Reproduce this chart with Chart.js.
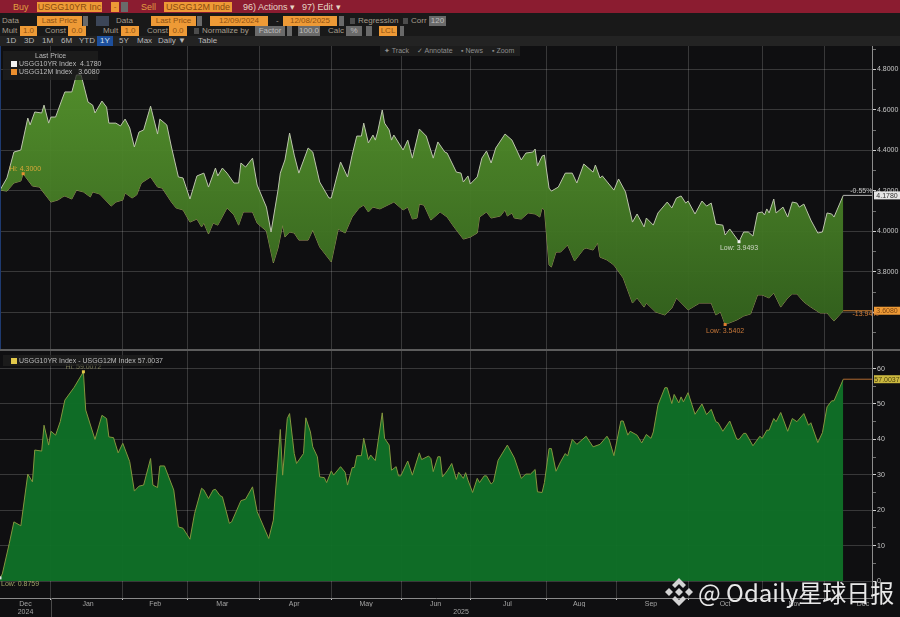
<!DOCTYPE html>
<html>
<head>
<meta charset="utf-8">
<title>USGG10YR vs USGG12M</title>
<script src="https://cdn.jsdelivr.net/npm/chart.js@4/dist/chart.umd.min.js"></script>
<style>
  html, body { margin: 0; padding: 0; background: #0f0f11; }
  #page { position: relative; width: 900px; height: 617px; overflow: hidden; background: #0f0f11;
          font-family: "Liberation Sans", Arial, sans-serif; }
  canvas { position: absolute; left: 0; display: block; }
  .bar { position: absolute; left: 0; width: 900px; }
  .t, .box { position: absolute; white-space: nowrap; font-size: 8px; line-height: 10px; }
  .t { color: #a69d8c; }
  .box { height: 10px; text-align: center; }
  .org { background: #ee9a36; color: #8e5214; }
  .gry { background: #6a6a6a; color: #bdbdbd; }
  .chk { background: #4c4c4c; width: 5px; height: 6px; position: absolute; }
  .sq { position: absolute; width: 6px; height: 6px; }
  .leg { position: absolute; font-size: 7px; line-height: 8px; color: #bcbcbc; white-space: nowrap; }
</style>
</head>
<body>
<div id="page">
  <div class="bar" style="top:0;height:13px;background:#8b1c30"></div>
  <div class="bar" style="top:13px;height:23px;background:#191919"></div>
  <div class="bar" style="top:36px;height:10px;background:#232323"></div>

  <!-- buy / sell row -->
  <span class="t" style="left:13px;top:2px;color:#e0a040;font-size:9px">Buy</span>
  <span class="box org" style="left:37px;top:2px;width:65px;font-size:9px;color:#8a4a10">USGG10YR Inc</span>
  <span class="box org" style="left:111px;top:2px;width:8px">-</span>
  <span class="box gry" style="left:121px;top:2px;width:7px"></span>
  <span class="t" style="left:141px;top:2px;color:#e0a040;font-size:9px">Sell</span>
  <span class="box org" style="left:164px;top:2px;width:68px;font-size:9px;color:#8a4a10">USGG12M Inde</span>
  <span class="t" style="left:243px;top:2px;color:#e6d6c6;font-size:9px">96) Actions ▾</span>
  <span class="t" style="left:302px;top:2px;color:#e6d6c6;font-size:9px">97) Edit ▾</span>

  <!-- data row -->
  <span class="t" style="left:2px;top:16px">Data</span>
  <span class="box org" style="left:37px;top:16px;width:45px">Last Price</span>
  <span class="box gry" style="left:83px;top:16px;width:5px"></span>
  <span class="box gry" style="left:96px;top:16px;width:13px;background:#3c4658"></span>
  <span class="t" style="left:116px;top:16px">Data</span>
  <span class="box org" style="left:151px;top:16px;width:45px">Last Price</span>
  <span class="box gry" style="left:197px;top:16px;width:5px"></span>
  <span class="box org" style="left:210px;top:16px;width:58px">12/09/2024</span>
  <span class="t" style="left:276px;top:16px">-</span>
  <span class="box org" style="left:283px;top:16px;width:54px">12/08/2025</span>
  <span class="box gry" style="left:339px;top:16px;width:5px"></span>
  <span class="chk" style="left:350px;top:18px"></span>
  <span class="t" style="left:358px;top:16px">Regression</span>
  <span class="chk" style="left:403px;top:18px"></span>
  <span class="t" style="left:411px;top:16px">Corr</span>
  <span class="box gry" style="left:429px;top:16px;width:17px">120</span>

  <!-- mult row -->
  <span class="t" style="left:2px;top:26px">Mult</span>
  <span class="box org" style="left:20px;top:26px;width:17px">1.0</span>
  <span class="t" style="left:45px;top:26px">Const</span>
  <span class="box org" style="left:68px;top:26px;width:18px">0.0</span>
  <span class="t" style="left:103px;top:26px">Mult</span>
  <span class="box org" style="left:121px;top:26px;width:18px">1.0</span>
  <span class="t" style="left:147px;top:26px">Const</span>
  <span class="box org" style="left:169px;top:26px;width:18px">0.0</span>
  <span class="chk" style="left:194px;top:28px"></span>
  <span class="t" style="left:202px;top:26px">Normalize by</span>
  <span class="box gry" style="left:255px;top:26px;width:30px">Factor</span>
  <span class="box gry" style="left:287px;top:26px;width:5px"></span>
  <span class="box gry" style="left:298px;top:26px;width:22px">100.0</span>
  <span class="t" style="left:328px;top:26px">Calc</span>
  <span class="box gry" style="left:346px;top:26px;width:16px">%</span>
  <span class="box gry" style="left:366px;top:26px;width:6px"></span>
  <span class="box org" style="left:379px;top:26px;width:18px">LCL</span>
  <span class="box gry" style="left:400px;top:26px;width:4px"></span>

  <!-- range row -->
  <span class="t" style="left:6px;top:36px;color:#b8b8b8">1D</span>
  <span class="t" style="left:24px;top:36px;color:#b8b8b8">3D</span>
  <span class="t" style="left:42px;top:36px;color:#b8b8b8">1M</span>
  <span class="t" style="left:61px;top:36px;color:#b8b8b8">6M</span>
  <span class="t" style="left:79px;top:36px;color:#b8b8b8">YTD</span>
  <span class="box" style="left:97px;top:36px;width:16px;background:#1d4f9c;color:#d5e0f0">1Y</span>
  <span class="t" style="left:119px;top:36px;color:#b8b8b8">5Y</span>
  <span class="t" style="left:137px;top:36px;color:#b8b8b8">Max</span>
  <span class="t" style="left:158px;top:36px;color:#b8b8b8">Daily ▼</span>
  <span class="t" style="left:198px;top:36px;color:#b8b8b8">Table</span>

  <canvas id="topChart" width="900" height="303" style="top:46px"></canvas>
  <canvas id="bottomChart" width="900" height="266" style="top:351px"></canvas>
  <div style="position:absolute;left:0;top:349px;width:900px;height:2px;background:#5c5c5c"></div>
  <div style="position:absolute;left:0;top:46px;width:1px;height:303px;background:#1e3a70"></div>
  <div style="position:absolute;left:51px;top:598px;width:1px;height:19px;background:#4a4a4a"></div>

  <!-- chart toolbar -->
  <div style="position:absolute;left:380px;top:46px;width:140px;height:10px;background:#1d1d1d"></div>
  <span class="leg" style="left:384px;top:47px;color:#8e8e8e">✦ Track</span>
  <span class="leg" style="left:417px;top:47px;color:#8e8e8e">✓ Annotate</span>
  <span class="leg" style="left:461px;top:47px;color:#8e8e8e">▪ News</span>
  <span class="leg" style="left:492px;top:47px;color:#8e8e8e">▪ Zoom</span>

  <!-- top legend -->
  <div style="position:absolute;left:3px;top:51px;width:95px;height:29px;background:rgba(32,32,32,.72)"></div>
  <span class="leg" style="left:35px;top:52px">Last Price</span>
  <span class="sq" style="left:11px;top:61px;background:#f2f2f2"></span>
  <span class="leg" style="left:19px;top:60px">USGG10YR Index&nbsp; 4.1780</span>
  <span class="sq" style="left:11px;top:69px;background:#ec8f2e"></span>
  <span class="leg" style="left:19px;top:68px">USGG12M Index&nbsp;&nbsp; 3.6080</span>

  <!-- bottom legend -->
  <div style="position:absolute;left:3px;top:355px;width:150px;height:11px;background:rgba(32,32,32,.72)"></div>
  <span class="sq" style="left:11px;top:358px;background:#e2c84a"></span>
  <span class="leg" style="left:19px;top:357px">USGG10YR Index - USGG12M Index 57.0037</span>

  <!-- watermark -->
  <svg style="position:absolute;left:664px;top:577px" width="30" height="30" viewBox="0 0 30 30">
    <g fill="#d4d4d4">
      <polygon points="15,1 22,8 19,11 15,7 11,11 8,8"/>
      <polygon points="15,29 22,22 19,19 15,23 11,19 8,22"/>
      <polygon points="1,15 5,11 9,15 5,19"/>
      <polygon points="29,15 25,11 21,15 25,19"/>
      <polygon points="15,11 19,15 15,19 11,15"/>
    </g>
  </svg>
  <span style="position:absolute;left:698px;top:576px;color:#e8e8e8;font:24px/32px 'Noto Sans CJK SC','Noto Sans',sans-serif;white-space:nowrap">@ Odaily星球日报</span>
</div>

<script>
// x is calendar days since 12/09/2024
const tenYrDays = [0,3,6,9,12,13,15,18,19,21,22,24,27,28,31,33,35,38,40,41,44,46,47,50,52,54,56,58,60,62,65,68,69,72,74,77,79,82,85,88,90,93,94,96,98,101,103,104,106,109,111,115,117,120,121,123,125,127,129,133,135,138,142,143,147,150,152,154,156,157,159,161,162,163,165,166,168,169,170,174,176,178,181,184,187,189,192,193,197,199,200,202,203,206,208,210,212,214,218,221,225,227,230,231,232,234,235,237,238,241,244,247,249,252,256,257,259,260,265,267,270,273,275,278,279,282,284,288,290,292,294,296,297,300,303,305,307,309,312,313,315,319,321,323,325,327,329,330,331,332,334,335,338,340,342,344,345,347,350,353,355,357,359,360,364];
const tenYr = [4.204,4.264,4.392,4.402,4.56,4.526,4.59,4.585,4.624,4.535,4.565,4.565,4.659,4.689,4.689,4.773,4.773,4.639,4.624,4.585,4.644,4.614,4.535,4.535,4.521,4.555,4.511,4.417,4.491,4.501,4.619,4.481,4.555,4.526,4.417,4.269,4.264,4.16,4.274,4.288,4.219,4.313,4.274,4.313,4.288,4.239,4.239,4.338,4.318,4.362,4.229,4.12,3.997,4.204,4.288,4.353,4.486,4.377,4.288,4.412,4.392,4.244,4.165,4.165,4.343,4.269,4.377,4.471,4.471,4.535,4.437,4.476,4.451,4.491,4.6,4.535,4.501,4.451,4.476,4.402,4.451,4.362,4.506,4.471,4.362,4.442,4.392,4.387,4.293,4.288,4.244,4.274,4.234,4.269,4.362,4.397,4.338,4.412,4.481,4.451,4.353,4.387,4.392,4.407,4.323,4.372,4.377,4.214,4.199,4.219,4.288,4.288,4.239,4.333,4.293,4.328,4.264,4.274,4.204,4.259,4.195,4.046,4.086,4.022,4.066,4.031,4.091,4.145,4.116,4.165,4.175,4.14,4.15,4.086,4.15,4.125,4.14,4.036,4.031,3.982,4.012,3.949,3.997,3.997,3.977,4.091,4.096,4.081,4.111,4.091,4.16,4.091,4.12,4.071,4.145,4.14,4.12,4.135,4.056,3.992,3.997,4.091,4.086,4.071,4.178];

const oneYrDays = [0,3,6,9,10,14,17,22,25,27,28,31,33,36,39,40,43,48,50,53,54,57,59,61,65,68,70,74,76,79,82,85,87,88,90,92,94,98,101,103,105,109,111,115,118,120,122,123,125,127,129,133,135,138,143,146,149,152,155,157,159,161,164,170,174,176,178,180,181,183,186,190,193,196,200,203,206,207,210,212,216,218,219,221,222,225,228,231,233,234,235,237,238,240,242,245,248,252,253,256,258,259,262,265,269,273,275,278,279,283,287,290,292,297,302,307,309,311,313,318,321,324,327,329,332,334,337,340,342,344,347,350,354,357,360,364];
const oneYr = [4.204,4.199,4.239,4.249,4.285,4.224,4.219,4.145,4.155,4.17,4.175,4.16,4.204,4.195,4.17,4.195,4.185,4.125,4.145,4.155,4.19,4.165,4.18,4.239,4.269,4.219,4.214,4.145,4.116,4.106,4.046,4.061,4.022,4.041,3.987,4.041,4.031,4.116,4.081,4.031,4.096,4.096,4.041,4.002,3.844,3.918,4.031,3.972,3.997,3.992,3.957,3.957,4.007,3.923,3.849,4.012,3.992,4.071,4.116,4.13,4.096,4.12,4.111,4.145,4.106,4.12,4.061,4.066,4.135,4.13,4.056,4.096,4.071,4.022,3.962,3.972,3.992,4.071,4.096,4.066,4.076,4.106,4.076,4.091,4.066,4.061,4.091,4.086,4.071,4.116,4.106,3.834,3.824,3.898,3.898,3.933,3.854,3.913,3.918,3.908,3.943,3.873,3.859,3.834,3.77,3.646,3.671,3.626,3.646,3.602,3.587,3.621,3.671,3.612,3.646,3.646,3.587,3.602,3.54,3.562,3.582,3.592,3.686,3.686,3.671,3.696,3.626,3.671,3.691,3.691,3.651,3.626,3.597,3.597,3.557,3.608];

const spreadDays = [0,1,4,6,9,12,14,15,18,19,21,22,24,26,28,32,36,37,41,44,46,47,49,51,53,56,58,60,62,65,66,68,69,71,75,77,79,82,84,87,88,90,92,93,95,96,99,100,104,106,109,111,116,118,121,122,124,125,127,128,131,132,134,135,137,138,140,141,143,144,147,149,150,152,153,154,156,157,159,160,162,165,166,168,169,171,172,173,176,178,181,182,185,186,187,189,190,191,193,195,197,198,200,201,202,204,206,207,209,210,212,213,215,219,222,225,227,229,231,232,234,235,237,238,240,242,244,245,247,249,253,256,259,262,263,265,268,269,271,272,275,277,279,281,282,284,287,288,290,291,293,294,295,297,300,303,305,307,309,310,312,315,318,319,321,322,325,328,329,331,332,334,335,337,340,342,344,347,349,350,353,355,357,359,360,364];
const spread = [0.88,2,10.6,16.7,15.6,30.2,28,37,36.7,44,38.4,42.3,41.2,45,51.1,54.7,59.1,48.3,40,46.8,45.9,40.7,40.5,36.2,38.9,33.7,25.4,26.8,27.1,34.6,27.1,26.4,32.5,32.5,25.7,15.3,14.9,11.8,19.1,26.2,25.7,23.3,25.7,25.9,24.1,23.8,16.3,16.7,22.7,23.1,26.6,19.6,12,17.2,42.8,29.9,45.9,47.3,36,33.2,36,46.1,42.1,37.9,35.1,29.4,29.2,27.8,31.1,29.9,32.3,30.7,27.1,32,32.1,35.4,35.4,40.3,34.3,35.6,34,47.5,40.3,38.4,31.3,32.3,29.7,29.7,33.9,29.9,36.2,34.3,35.3,34.6,30.9,35.1,35.1,29.4,31.1,33.2,28.7,30.7,29,30.6,28.5,25,29,27.8,29.7,29.7,27.4,28,34.1,38.4,34.8,29,30.2,30.2,31.5,25.2,25,27.8,37.4,37.4,31,33.7,36,35.3,40,38.6,40.9,37.9,38.6,40.9,39.8,35.4,45.2,45.2,41.2,42.3,41.2,39,41.4,40.3,42.1,49.7,54.6,54.6,50.1,52.7,50.3,52,50.6,53.2,47.1,50,47,48.5,45,44.7,42.3,45.2,40.1,40,41.7,41.7,38.2,40.9,40.3,42.6,42.6,45.9,45,47.6,42.3,45.9,45,47.3,44,44.7,39.1,41.9,49.2,50.9,50.9,57];

const monthStarts = [22,53,81,112,143,173.5,203,236,266,297,329,356];
const monthNames = ['Dec','Jan','Feb','Mar','Apr','May','Jun','Jul','Aug','Sep','Oct','Nov','Dec'];
const monthMids = [11,38,67,96,127,158,188,219,250,281,313,343,372.5];
const yearNames = ['2024','2025'];
const yearMids = [11,199];

const topTicks = [3.5,3.6,3.7,3.8,3.9,4,4.1,4.2,4.3,4.4,4.5,4.6,4.7,4.8,4.9];
const topLabels = [3.6,3.8,4,4.2,4.4,4.6,4.8];
const bottomTicks = [0,5,10,15,20,25,30,35,40,45,50,55,60];
const bottomLabels = [0,10,20,30,40,50,60];

const lastDay = 364;
const xMax = 376.4;
const gridColor = 'rgba(190,190,190,0.24)';

// axis sizes are forced so both panels line up with the same plot edges
function noPadding(axis) {
  axis.paddingTop = 0;
  axis.paddingBottom = 0;
  axis.paddingLeft = 0;
  axis.paddingRight = 0;
}
const fixedWidth = w => axis => { axis.width = w; noPadding(axis); };
const fixedHeight = h => axis => { axis.height = h; noPadding(axis); };

function yAxis(min, max, ticks, labels, digits) {
  return {
    position: 'right', min, max,
    afterFit: fixedWidth(28),
    afterBuildTicks: axis => { axis.ticks = ticks.map(value => ({ value })); },
    border: { color: '#8c8c8c', width: 1 },
    grid: {
      lineWidth: 1,
      tickLength: 4,
      color: c => (labels.includes(c.tick && c.tick.value) ? gridColor : 'transparent'),
      tickColor: c => (labels.includes(c.tick && c.tick.value) ? '#d0d0d0' : '#707070')
    },
    ticks: {
      autoSkip: false, padding: 1, color: '#c6c6c6',
      font: { size: 7, family: 'Liberation Sans' },
      callback: v => (labels.includes(v) ? v.toFixed(digits) : '')
    }
  };
}

function monthGrid(extra) {
  return Object.assign({
    type: 'linear', min: 0, max: xMax,
    afterBuildTicks: axis => { axis.ticks = monthStarts.map(value => ({ value })); },
    afterFit: fixedHeight(0),
    border: { display: false },
    grid: { color: gridColor, lineWidth: 1, drawTicks: false },
    ticks: { display: false, autoSkip: false }
  }, extra);
}

function labelAxis(positions, names, padding, height, weight) {
  return {
    type: 'linear', position: 'bottom', min: 0, max: xMax, weight,
    afterBuildTicks: axis => { axis.ticks = positions.map(value => ({ value })); },
    afterFit: fixedHeight(height),
    border: { display: false },
    grid: { display: false, drawTicks: false },
    ticks: {
      autoSkip: false, maxRotation: 0, padding, color: '#a4a4a4',
      font: { size: 7, family: 'Liberation Sans' },
      callback: (v, i) => names[i]
    }
  };
}

// small plugin for the Hi/Low marks, percent notes and the last-value tags
const notesPlugin = {
  id: 'notes',
  afterDatasetsDraw(chart, args, opts) {
    const { ctx, scales: { x, y }, chartArea } = chart;
    ctx.save();
    ctx.textBaseline = 'middle';
    ctx.font = '7px "Liberation Sans"';
    (opts.tags || []).forEach(tag => {
      const py = y.getPixelForValue(tag.value);
      ctx.strokeStyle = tag.line;
      ctx.lineWidth = 1;
      ctx.beginPath();
      ctx.moveTo(x.getPixelForValue(lastDay), py);
      ctx.lineTo(chartArea.right, py);
      ctx.stroke();
      ctx.fillStyle = tag.bg;
      ctx.fillRect(chartArea.right + 2, py - 4, 26, 8);
      ctx.fillStyle = tag.fg;
      ctx.textAlign = 'center';
      ctx.fillText(tag.text, chartArea.right + 15, py + 0.5);
    });
    (opts.marks || []).forEach(m => {
      const px = x.getPixelForValue(m.day), py = y.getPixelForValue(m.value);
      ctx.fillStyle = m.color;
      ctx.fillRect(px - 1.5, py - 1.5, 3, 3);
      ctx.fillStyle = m.textColor || m.color;
      ctx.textAlign = m.align || 'center';
      ctx.fillText(m.text, px + (m.dx || 0), py + (m.dy || 0));
    });
    (opts.texts || []).forEach(t => {
      ctx.fillStyle = t.color;
      ctx.textAlign = 'left';
      ctx.fillText(t.text, x.getPixelForValue(t.day), y.getPixelForValue(t.value));
    });
    ctx.restore();
  }
};

const pairs = (xs, ys) => xs.map((d, i) => ({ x: d, y: ys[i] }));

function bandFill(context) {
  const { ctx, chartArea } = context.chart;
  if (!chartArea) return '#3f7322';
  const g = ctx.createLinearGradient(0, chartArea.top, 0, chartArea.bottom);
  g.addColorStop(0, 'rgba(88,152,46,0.96)');
  g.addColorStop(0.5, 'rgba(70,124,38,0.96)');
  g.addColorStop(1, 'rgba(48,94,28,0.96)');
  return g;
}

new Chart(document.getElementById('topChart'), {
  type: 'line',
  plugins: [notesPlugin],
  data: {
    datasets: [
      { label: 'USGG10YR Index', data: pairs(tenYrDays, tenYr), borderColor: '#bcc4ac', borderWidth: 1, pointRadius: 0, tension: 0, fill: '+1', backgroundColor: bandFill },
      { label: 'USGG12M Index', data: pairs(oneYrDays, oneYr), borderColor: 'rgba(176,162,104,0.8)', borderWidth: 1, pointRadius: 0, tension: 0, fill: false }
    ]
  },
  options: {
    responsive: false,
    animation: false,
    layout: { padding: 0 },
    scales: {
      x: monthGrid(),
      y: yAxis(3.419, 4.916, topTicks, topLabels, 4)
    },
    plugins: {
      legend: { display: false },
      tooltip: { enabled: false },
      notes: {
        tags: [
          { value: 4.178, text: '4.1780', bg: '#e6e6e6', fg: '#333', line: '#b5b5b5' },
          { value: 3.608, text: '3.6080', bg: '#ee9a36', fg: '#7c4510', line: '#c07a30' }
        ],
        marks: [
          { day: 10, value: 4.285, color: '#e89030', textColor: '#d8a838', text: 'Hi: 4.3000', dx: -14, dy: -5, align: 'left' },
          { day: 319, value: 3.949, color: '#f0f0f0', textColor: '#d0d8c8', text: 'Low: 3.9493', dy: 6 },
          { day: 313, value: 3.54, color: '#e07e30', textColor: '#c8783a', text: 'Low: 3.5402', dy: 7 }
        ],
        texts: [
          { day: 367, value: 4.2, color: '#c8c8c8', text: '-0.55%' },
          { day: 368, value: 3.592, color: '#d8813a', text: '-13.94%' }
        ]
      }
    }
  }
});

new Chart(document.getElementById('bottomChart'), {
  type: 'line',
  plugins: [notesPlugin],
  data: {
    datasets: [
      { label: 'USGG10YR Index - USGG12M Index', data: pairs(spreadDays, spread), borderColor: '#84963e', borderWidth: 1, pointRadius: 0, tension: 0, fill: { value: 0 }, backgroundColor: 'rgba(16,112,40,0.96)' }
    ]
  },
  options: {
    responsive: false,
    animation: false,
    layout: { padding: 0 },
    scales: {
      x: monthGrid({ position: 'bottom', weight: 0, border: { color: '#8a8a8a', width: 1 }, grid: { color: gridColor, lineWidth: 1, tickLength: 2, tickColor: '#cccccc' } }),
      xMonths: labelAxis(monthMids, monthNames, 2, 9, 1),
      xYears: labelAxis(yearMids, yearNames, 1, 10, 2),
      y: yAxis(-4.8, 64.97, bottomTicks, bottomLabels, 0)
    },
    plugins: {
      legend: { display: false },
      tooltip: { enabled: false },
      notes: {
        tags: [
          { value: 57, text: '57.0037', bg: '#cbb83f', fg: '#4f4510', line: '#b06a30' }
        ],
        marks: [
          { day: 36, value: 59.1, color: '#e2c84a', textColor: '#7c7c58', text: 'Hi: 59.0072', dy: -5 },
          { day: 0, value: 0.88, color: '#e0e0e0', textColor: '#a0a068', text: 'Low: 0.8759', dx: 1, dy: 6, align: 'left' }
        ]
      }
    }
  }
});
</script>
</body>
</html>
